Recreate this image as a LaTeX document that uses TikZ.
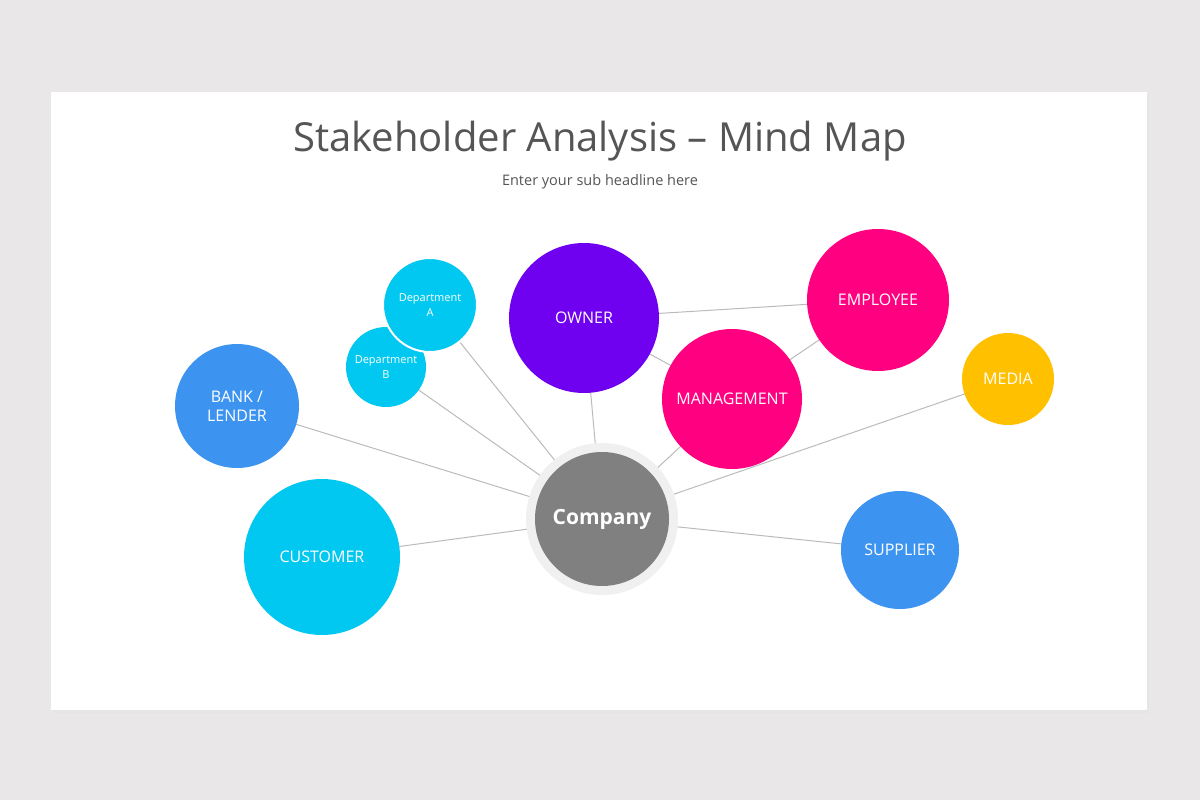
\documentclass[tikz,border=0pt]{standalone}
\usepackage{fontspec}
\setmainfont{Open Sans}
\definecolor{bg}{HTML}{E9E7E8}
\definecolor{ln}{HTML}{BBBBBB}
\definecolor{purp}{HTML}{7000F0}
\definecolor{pink}{HTML}{FF0080}
\definecolor{gold}{HTML}{FFC000}
\definecolor{blu}{HTML}{3D94F0}
\definecolor{cyn}{HTML}{00C8F0}
\definecolor{gry}{HTML}{808080}
\definecolor{ttl}{HTML}{555555}
\begin{document}
\begin{tikzpicture}[x=1pt,y=-1pt,
  bub/.style={circle,inner sep=0pt,text=white,align=center,font=\fontsize{16}{19}\selectfont},
  link/.style={draw=ln,line width=1pt}]
\useasboundingbox (0,0) rectangle (1200,800);
\fill[bg] (0,0) rectangle (1200,800);
\fill[black!10] (53,95) rectangle (1149,713);
\fill[white] (51,92) rectangle (1147,710);
\node[text=ttl,font=\fontsize{40}{46}\selectfont] (title) at (600,141) {Stakeholder Analysis – Mind Map};
\node[text=ttl,font=\fontsize{14.5}{17}\selectfont] (sub) at (600,182) {Enter your sub headline here};
% coordinates
\coordinate (c) at (602,519);
\coordinate (ow) at (584,318);
\coordinate (mg) at (732,399);
\coordinate (em) at (878,300);
\coordinate (md) at (1008,379);
\coordinate (sp) at (900,550);
\coordinate (cu) at (322,557);
\coordinate (bk) at (237,406);
\coordinate (da) at (430,305);
\coordinate (db) at (386,367);
\foreach \t in {ow,mg,md,sp,cu,bk,da,db} \draw[link] (c) -- (\t);
\draw[link] (ow) -- (em);
\draw[link] (mg) -- (em);
\draw[link] (ow) -- (mg);
\node[circle,fill=black!6,minimum size=152pt] (ring) at (c) {};
\node[bub,fill=gry,minimum size=134pt,font=\fontsize{21}{25}\selectfont\bfseries] (company) at (c) {Company};
\node[bub,fill=purp,minimum size=150pt] (owner) at (ow) {OWNER};
\node[bub,fill=pink,minimum size=140pt] (mgmt) at (mg) {MANAGEMENT};
\node[bub,fill=pink,minimum size=142pt] (emp) at (em) {EMPLOYEE};
\node[bub,fill=gold,minimum size=92pt] (media) at (md) {MEDIA};
\node[bub,fill=blu,minimum size=118pt] (sup) at (sp) {SUPPLIER};
\node[bub,fill=cyn,minimum size=156pt] (cust) at (cu) {CUSTOMER};
\node[bub,fill=blu,minimum size=124pt] (bank) at (bk) {BANK /\\LENDER};
\node[bub,fill=cyn,minimum size=80pt,font=\fontsize{11}{15}\selectfont] (deptb) at (db) {Department\\B};
\node[bub,fill=cyn,draw=white,line width=2pt,minimum size=94pt,font=\fontsize{11}{15}\selectfont] (depta) at (da) {Department\\A};
\end{tikzpicture}
\end{document}
